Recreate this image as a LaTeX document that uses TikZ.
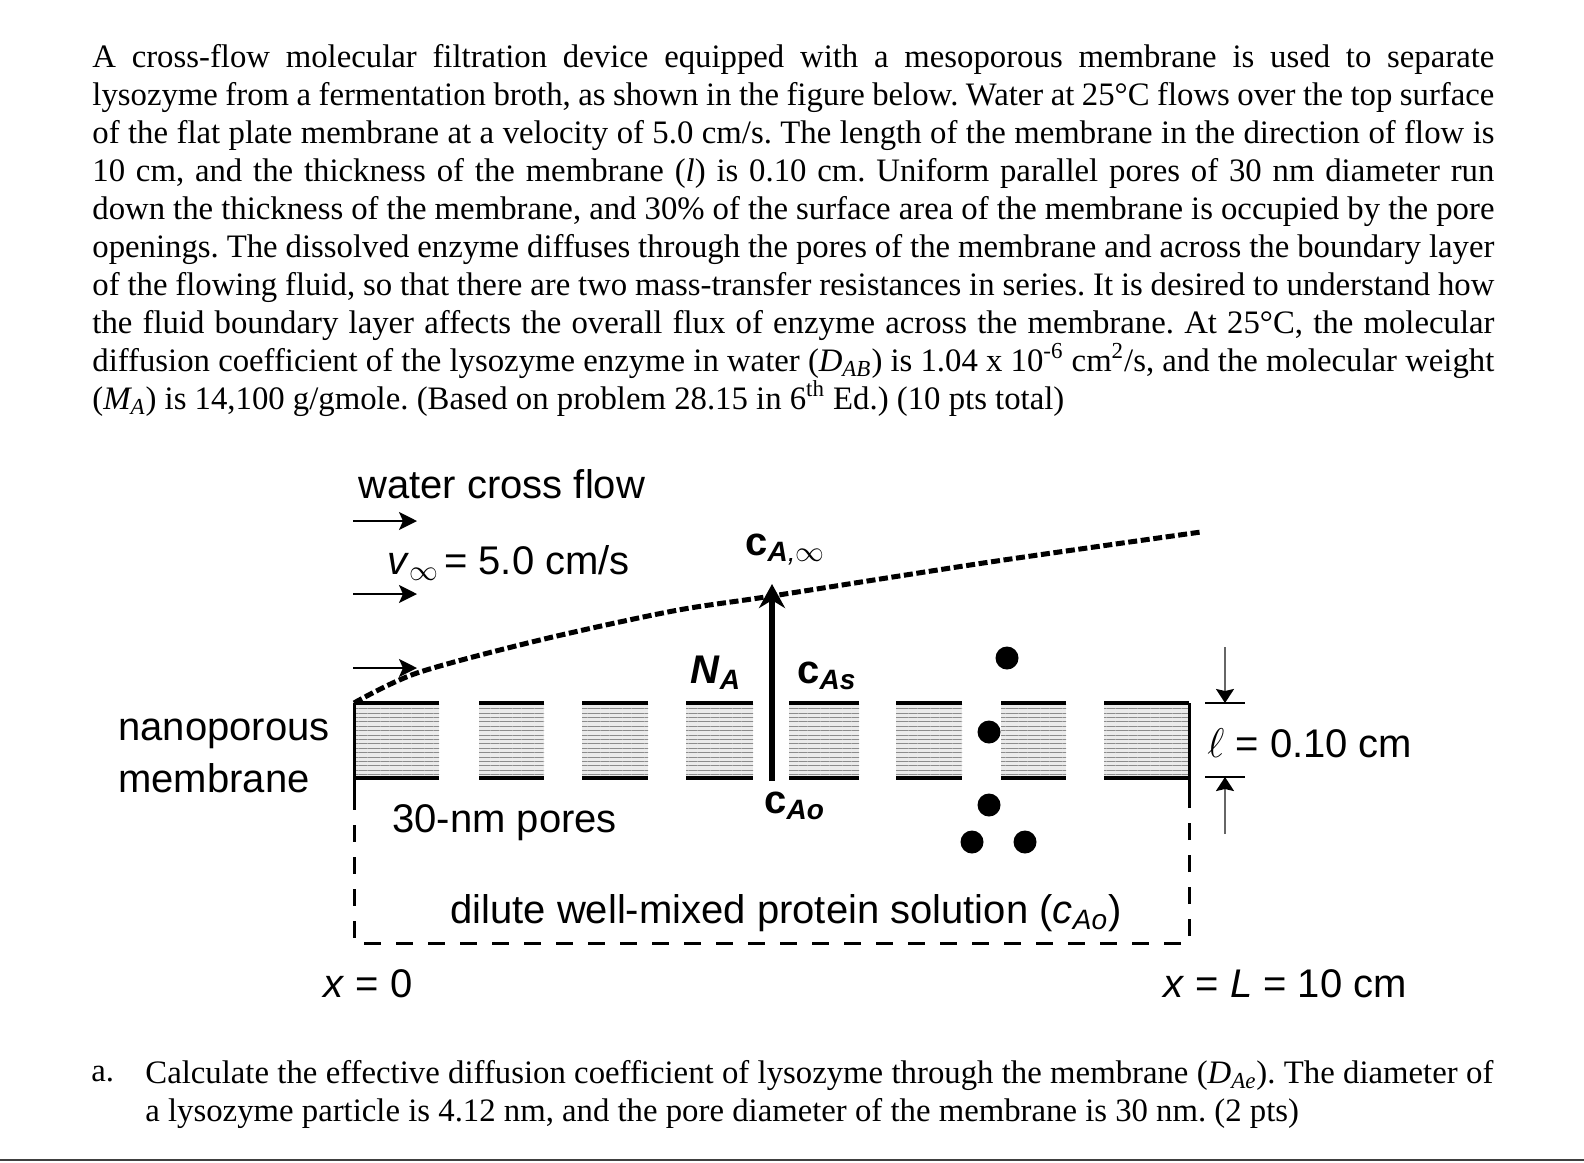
\documentclass[tikz,border=0pt]{standalone}
\usepackage{fontspec}
\setmainfont{Liberation Serif}
\newfontfamily\labelfont{Liberation Sans}
\usetikzlibrary{arrows.meta,patterns.meta}
\tolerance=9999
\hbadness=10000
\frenchspacing

\begin{document}
\begin{tikzpicture}
        [x=0.5pt, y=-0.5pt,
        para/.style={anchor=north west, inner sep=0pt, align=justify, font=\fontsize{16.38}{19}\selectfont},
        lbl/.style={anchor=base west, inner sep=0pt, font=\labelfont\fontsize{20}{24}\selectfont},
        flow/.style={black, line width=1pt, -{Stealth[length=9pt,width=9pt,inset=2pt]}},
        wall/.style={black, line width=2pt},
        edge/.style={black, line width=1.5pt},
        solid box/.style={black, line width=1.5pt, dash pattern=on 8.5pt off 7.5pt},
        boundary/.style={black, line width=2.5pt, dash pattern=on 4.5pt off 1.8pt},
        size/.style={black!60, line width=1pt, -{Stealth[black,length=7pt,width=9pt,inset=1pt]}},
        protein/.style={circle, fill=black, inner sep=0pt, minimum size=11.5pt}]

        \useasboundingbox (0,0) rectangle (1584,1162);

        % problem statement
        \node[para, text width=701pt] (problem) at (92,44) {A cross-flow molecular filtration device equipped with a mesoporous membrane is used to separate\linebreak
        lysozyme from a fermentation broth, as shown in the figure below. Water at 25°C flows over the top surface\linebreak
        of the flat plate membrane at a velocity of 5.0 cm/s. The length of the membrane in the direction of flow is\linebreak
        10 cm, and the thickness of the membrane (\textit{l}) is 0.10 cm. Uniform parallel pores of 30 nm diameter run\linebreak
        down the thickness of the membrane, and 30\% of the surface area of the membrane is occupied by the pore\linebreak
        openings. The dissolved enzyme diffuses through the pores of the membrane and across the boundary layer\linebreak
        of the flowing fluid, so that there are two mass-transfer resistances in series. It is desired to understand how\linebreak
        the fluid boundary layer affects the overall flux of enzyme across the membrane. At 25°C, the molecular\linebreak
        diffusion coefficient of the lysozyme enzyme in water (\textit{D\textsubscript{AB}}) is 1.04 x 10\textsuperscript{-6} cm\textsuperscript{2}/s, and the molecular weight\linebreak
        (\textit{M\textsubscript{A}}) is 14,100 g/gmole. (Based on problem 28.15 in 6\textsuperscript{th} Ed.) (10 pts total)};

        % membrane blocks
        \foreach \xl/\xr in {354/439, 479/544, 582/648, 686/753, 789/859, 896/962, 1001/1066, 1104/1189} {
            \fill[black!8] (\xl,704) rectangle (\xr,778);
            \fill[pattern={Lines[angle=0,distance=2.2pt,line width=0.5pt]}, pattern color=black!45] (\xl,704) rectangle (\xr,778);
            \draw[wall] (\xl,703) -- (\xr,703);
            \draw[wall] (\xl,778) -- (\xr,778);
        }

        \coordinate (tl) at (354,703);
        \coordinate (bl) at (354,793);
        \coordinate (tr) at (1189,703);
        \coordinate (br) at (1189,793);
        \coordinate (dl) at (354,943);
        \coordinate (dr) at (1189,943);

        % solution box
        \draw[edge] (tl) -- (bl);
        \draw[edge] (tr) -- (br);
        \draw[solid box] (bl) -- (dl) -- (dr) -- (br);

        % boundary layer edge
        \draw[boundary] plot[smooth] coordinates {(tl) (417,673) (540,640) (673,611) (772,596) (990,562) (1201,532)};

        % inlet arrows
        \coordinate (f1a) at (353,521);
        \coordinate (f1b) at (417,521);
        \coordinate (f2a) at (353,594);
        \coordinate (f2b) at (417,594);
        \coordinate (f3a) at (353,668);
        \coordinate (f3b) at (417,668);
        \draw[flow] (f1a) -- (f1b);
        \draw[flow] (f2a) -- (f2b);
        \draw[flow] (f3a) -- (f3b);

        % flux arrow
        \coordinate (pore) at (772,781);
        \coordinate (edgetop) at (772,584);
        \draw[line width=2.6pt, -{Stealth[length=12pt,width=13pt]}] (pore) -- (edgetop);

        % thickness marks
        \coordinate (t1) at (1205,703);
        \coordinate (t2) at (1245,703);
        \coordinate (b1) at (1205,777);
        \coordinate (b2) at (1245,777);
        \coordinate (ta) at (1225,647);
        \coordinate (tb) at (1225,703);
        \coordinate (ba) at (1225,834);
        \coordinate (bb) at (1225,777);
        \draw[size] (ta) -- (tb);
        \draw[size] (ba) -- (bb);
        \draw[thick] (t1) -- (t2);
        \draw[thick] (b1) -- (b2);

        % protein molecules
        \node[protein] (m1) at (1007,658) {};
        \node[protein] (m2) at (989,732) {};
        \node[protein] (m3) at (989,805) {};
        \node[protein] (m4) at (972,842) {};
        \node[protein] (m5) at (1025,842) {};

        % labels
        \node[lbl] (water) at (358,498) {water cross flow};
        \node[lbl] (vel) at (387,574) {\textit{v}$_{\infty}$\hspace{-3pt} = 5.0 cm/s};
        \node[lbl] (nano) at (118,740) {nanoporous};
        \node[lbl] (memb) at (118,792) {membrane};
        \node[lbl] (pores) at (392,832) {30-nm pores};
        \node[lbl] (sol) at (450,923) {dilute well-mixed protein solution (\textit{c}\textsubscript{\textit{Ao}})};
        \node[lbl] (x0) at (323,997) {\textit{x} = 0};
        \node[lbl] (xL) at (1163,997) {\textit{x} = \textit{L} = 10 cm};
        \node[lbl] (thick) at (1207,757) {$\ell$ = 0.10 cm};
        \node[lbl] (cinf) at (745,555) {\textbf{c}\textsubscript{\textit{\textbf{A},}$\infty$}};
        \node[lbl] (na) at (690,683) {\textit{\textbf{N}}\textsubscript{\textit{\textbf{A}}}};
        \node[lbl] (cas) at (797,683) {\textbf{c}\textsubscript{\textit{\textbf{As}}}};
        \node[lbl] (cao) at (764,813) {\textbf{c}\textsubscript{\textit{\textbf{Ao}}}};

        % question
        \node[para, text width=30pt] (parta) at (91,1066) {a.};
        \node[para, text width=674pt] (qa) at (145,1060) {Calculate the effective diffusion coefficient of lysozyme through the membrane (\textit{D\textsubscript{Ae}}). The diameter of\linebreak
        a lysozyme particle is 4.12 nm, and the pore diameter of the membrane is 30 nm. (2 pts)};

        % rule
        \coordinate (ra) at (0,1160);
        \coordinate (rb) at (1584,1160);
        \draw[black!75, line width=1pt] (ra) -- (rb);

    \end{tikzpicture}
\end{document}
